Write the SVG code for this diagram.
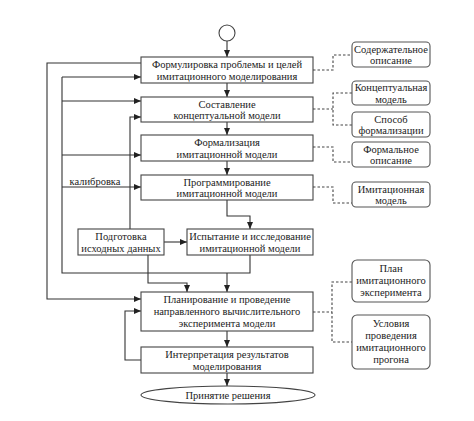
<svg xmlns="http://www.w3.org/2000/svg" width="474" height="421" viewBox="0 0 474 421">
<style>
.box{fill:#fff;stroke:#444;stroke-width:1.1}
.rbox{fill:#fff;stroke:#555;stroke-width:1.1}
.t{font-family:"Liberation Serif","DejaVu Serif",serif;font-size:10.5px;fill:#222;text-anchor:middle}
.ln{fill:none;stroke:#333;stroke-width:1.1}
.ar{fill:none;stroke:#333;stroke-width:1.1;marker-end:url(#ah)}
.ds{fill:none;stroke:#444;stroke-width:1.1;stroke-dasharray:2.5,2}
</style>
<defs>
<marker id="ah" markerUnits="userSpaceOnUse" markerWidth="8" markerHeight="8" refX="7" refY="4" orient="auto">
<path d="M0,1 L7,4 L0,7 Z" fill="#222"/>
</marker>
</defs>
<rect width="474" height="421" fill="#fff"/>
<g id="connectors">
<path class="ar" d="M227 41 V57"/>
<path class="ar" d="M227 83 V97"/>
<path class="ar" d="M227 122 V135"/>
<path class="ar" d="M227 161 V175"/>
<path class="ar" d="M227 200 V216 H250 V229"/>
<path class="ar" d="M164 242 H187"/>
<path class="ln" d="M250 255 V273 H62 V77"/>
<path class="ar" d="M62 77 H141"/>
<path class="ar" d="M62 101 H141"/>
<path class="ar" d="M62 155 H141"/>
<path class="ar" d="M62 187 H141"/>
<path class="ar" d="M227 273 V292"/>
<path class="ar" d="M148 255 V283 H187 V292"/>
<path class="ar" d="M130 229 V117 H141"/>
<path class="ar" d="M141 63 H47 V299 H141"/>
<path class="ar" d="M141 360 H125 V311 H141"/>
<path class="ar" d="M227 331 V347"/>
<path class="ar" d="M227 373 V386"/>
<path class="ds" d="M313 70 H333 V55 H352"/>
<path class="ds" d="M313 109 H333"/>
<path class="ds" d="M352 93 H333 V125 H352"/>
<path class="ds" d="M313 147 H333 V162 H352"/>
<path class="ds" d="M313 187 H333 V203 H352"/>
<path class="ds" d="M313 312 H332"/>
<path class="ds" d="M352 282 H332 V342 H352"/>
<text class="t" x="95" y="185">калибровка</text>
</g>
<g id="start"><circle cx="227" cy="33" r="8" fill="#fff" stroke="#444" stroke-width="1.1"/></g>
<g id="b1"><rect class="box" x="141" y="57" width="172" height="26"/><text class="t" x="227" y="68">Формулировка проблемы и целей</text><text class="t" x="227" y="80">имитационного моделирования</text></g>
<g id="b2"><rect class="box" x="141" y="97" width="172" height="25"/><text class="t" x="227" y="107.5">Составление</text><text class="t" x="227" y="119">концептуальной модели</text></g>
<g id="b3"><rect class="box" x="141" y="135" width="172" height="26"/><text class="t" x="227" y="146">Формализация</text><text class="t" x="227" y="158">имитационной модели</text></g>
<g id="b4"><rect class="box" x="141" y="175" width="172" height="25"/><text class="t" x="227" y="185.5">Программирование</text><text class="t" x="227" y="197">имитационной модели</text></g>
<g id="prep"><rect class="box" x="78" y="229" width="86" height="26"/><text class="t" x="121" y="240">Подготовка</text><text class="t" x="121" y="252">исходных данных</text></g>
<g id="test"><rect class="box" x="187" y="229" width="126" height="26"/><text class="t" x="250" y="240">Испытание и исследование</text><text class="t" x="250" y="252">имитационной модели</text></g>
<g id="plan"><rect class="box" x="141" y="292" width="172" height="39"/><text class="t" x="227" y="303">Планирование и проведение</text><text class="t" x="227" y="315">направленного вычислительного</text><text class="t" x="227" y="327">эксперимента модели</text></g>
<g id="interp"><rect class="box" x="141" y="347" width="172" height="26"/><text class="t" x="227" y="358">Интерпретация результатов</text><text class="t" x="227" y="370">моделирования</text></g>
<g id="end"><ellipse cx="228" cy="395" rx="87" ry="9" fill="#fff" stroke="#444" stroke-width="1.1"/><text class="t" x="228" y="399">Принятие решения</text></g>
<g id="r1"><rect class="rbox" x="352" y="42" width="78" height="25" rx="4"/><text class="t" x="391" y="52.5">Содержательное</text><text class="t" x="391" y="64">описание</text></g>
<g id="r2"><rect class="rbox" x="352" y="81" width="78" height="24" rx="4"/><text class="t" x="391" y="91">Концептуальная</text><text class="t" x="391" y="102.5">модель</text></g>
<g id="r3"><rect class="rbox" x="352" y="112" width="78" height="25" rx="4"/><text class="t" x="391" y="122.5">Способ</text><text class="t" x="391" y="134">формализации</text></g>
<g id="r4"><rect class="rbox" x="352" y="142" width="78" height="25" rx="4"/><text class="t" x="391" y="152.5">Формальное</text><text class="t" x="391" y="164">описание</text></g>
<g id="r5"><rect class="rbox" x="352" y="182" width="78" height="25" rx="4"/><text class="t" x="391" y="192.5">Имитационная</text><text class="t" x="391" y="204">модель</text></g>
<g id="r6"><rect class="rbox" x="352" y="260" width="78" height="42" rx="5"/><text class="t" x="391" y="272">План</text><text class="t" x="391" y="284">имитационного</text><text class="t" x="391" y="296">эксперимента</text></g>
<g id="r7"><rect class="rbox" x="352" y="315" width="78" height="54" rx="5"/><text class="t" x="391" y="327">Условия</text><text class="t" x="391" y="339">проведения</text><text class="t" x="391" y="351">имитационного</text><text class="t" x="391" y="363">прогона</text></g>
</svg>
